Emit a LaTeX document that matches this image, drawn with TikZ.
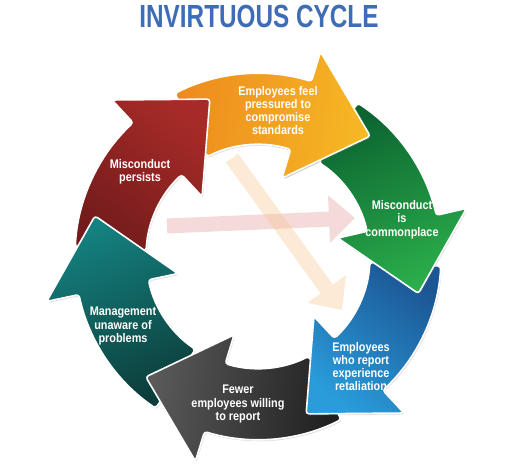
\documentclass[tikz,border=0pt]{standalone}
\usepackage{fontspec}
\newfontfamily\lblfont[FakeStretch=0.87]{Liberation Sans}
\newfontfamily\titlefont[FakeStretch=0.76]{Liberation Sans}
\usetikzlibrary{arrows.meta,shadows}

\definecolor{titleblue}{HTML}{3E6DB5}
\definecolor{orgA}{HTML}{EE8B1E}
\definecolor{orgB}{HTML}{F6B824}
\definecolor{grnA}{HTML}{0C6431}
\definecolor{grnB}{HTML}{2BAE4B}
\definecolor{bluA}{HTML}{1C5593}
\definecolor{bluB}{HTML}{2A9CDA}
\definecolor{gryA}{HTML}{1F1F1F}
\definecolor{gryB}{HTML}{5A5A5A}
\definecolor{tealA}{HTML}{0C3D3A}
\definecolor{tealB}{HTML}{148280}
\definecolor{redA}{HTML}{731B1C}
\definecolor{redB}{HTML}{A62B27}
\definecolor{pinkfade}{HTML}{E9A9A9}
\definecolor{orgfade}{HTML}{F7C48A}

\begin{document}
\begin{tikzpicture}[x=1pt, y=1pt,
  seg/.style={draw=white, line width=1.6pt, rounded corners=3pt,
    drop shadow={opacity=0.25, shadow xshift=1pt, shadow yshift=-1.5pt}},
  lbl/.style={text=white, align=center, font=\lblfont\bfseries\fontsize{12.5}{13.3}\selectfont},
  faint/.style={line width=15pt, -{Triangle[width=46pt, length=26pt]}}
]
\useasboundingbox (-258,-212.5) rectangle (262,256.5);
\fill[white] (-258,-212.5) rectangle (262,256.5);

\node[font=\titlefont\bfseries\fontsize{32}{32}\selectfont, text=titleblue, anchor=base] (t) at (1,228.5) {INVIRTUOUS CYCLE};

% faint arrows in the middle
\coordinate (p1) at (-91,30.5);
\coordinate (p2) at (97,38.5);
\coordinate (q1) at (-26,98.5);
\coordinate (q2) at (84,-53.5);
\begin{scope}[transparency group, opacity=0.42]
  \draw[faint, color=pinkfade] (p1) -- (p2);
\end{scope}
\begin{scope}[transparency group, opacity=0.34]
  \draw[faint, color=orgfade] (q1) -- (q2);
\end{scope}

% cycle segments (head of each one lies over the tail of the next)
\path[seg, top color=orgB, bottom color=orgA, shading angle=-98]
  (117:183pt) arc[start angle=117, end angle=73, radius=183pt] -- (73:214pt) -- (47:164.6pt)
  -- (73:82pt) -- (73:112pt) arc[start angle=73, end angle=117, radius=112pt] -- cycle;
\path[seg, top color=redB, bottom color=redA, shading angle=-38]
  (177:183pt) arc[start angle=177, end angle=133, radius=183pt] -- (133:214pt) -- (107:164.6pt)
  -- (133:82pt) -- (133:112pt) arc[start angle=133, end angle=177, radius=112pt] -- cycle;
\path[seg, top color=tealB, bottom color=tealA, shading angle=22]
  (-124:183pt) arc[start angle=-124, end angle=-168, radius=183pt] -- (-168:216pt) -- (-194:168pt)
  -- (-168:82pt) -- (-168:112pt) arc[start angle=-168, end angle=-124, radius=112pt] -- cycle;
\path[seg, top color=gryB, bottom color=gryA, shading angle=82]
  (-63:183pt) arc[start angle=-63, end angle=-107, radius=183pt] -- (-107:214pt) -- (-133:164.6pt)
  -- (-107:82pt) -- (-107:112pt) arc[start angle=-107, end angle=-63, radius=112pt] -- cycle;
\path[seg, top color=bluB, bottom color=bluA, shading angle=142]
  (-3:183pt) arc[start angle=-3, end angle=-47, radius=183pt] -- (-47:214pt) -- (-73:164.6pt)
  -- (-47:82pt) -- (-47:112pt) arc[start angle=-47, end angle=-3, radius=112pt] -- cycle;
\path[seg, top color=grnB, bottom color=grnA, shading angle=-158]
  (57:183pt) arc[start angle=57, end angle=13, radius=183pt] -- (13:214pt) -- (-13:164.6pt)
  -- (13:82pt) -- (13:112pt) arc[start angle=13, end angle=57, radius=112pt] -- cycle;
% orange head again, on top of the green tail
\begin{scope}
  \clip (0,0) -- (82:260pt) arc[start angle=82, end angle=20, radius=260pt] -- cycle;
  \path[seg, top color=orgB, bottom color=orgA, shading angle=-98]
    (117:183pt) arc[start angle=117, end angle=73, radius=183pt] -- (73:214pt) -- (47:164.6pt)
    -- (73:82pt) -- (73:112pt) arc[start angle=73, end angle=117, radius=112pt] -- cycle;
\end{scope}

\node[lbl] (a) at (20,146) {Employees feel\\pressured to\\compromise\\standards};
\node[lbl] (b) at (144,37) {Misconduct\\is\\commonplace};
\node[lbl] (c) at (103,-110) {Employees\\who report\\experience\\retaliation};
\node[lbl] (d) at (-20,-147.5) {Fewer\\employees willing\\to report};
\node[lbl] (e) at (-135,-69.5) {Management\\unaware of\\problems};
\node[lbl] (f) at (-118,85) {Misconduct\\persists};
\end{tikzpicture}
\end{document}
